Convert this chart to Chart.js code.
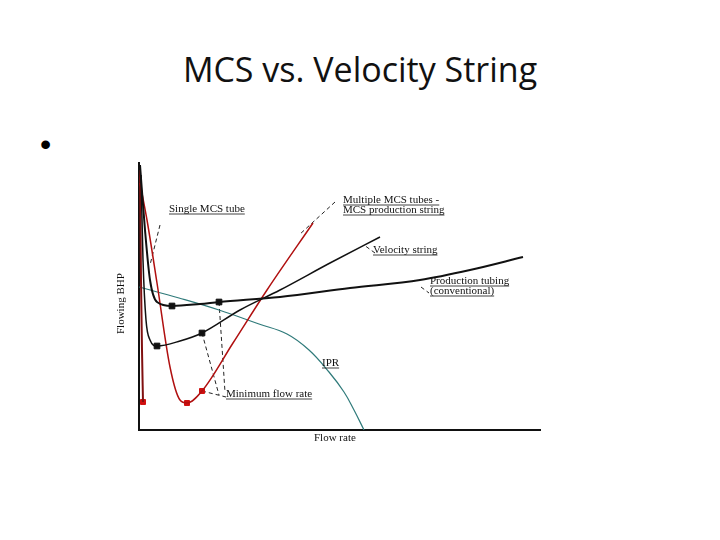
<!DOCTYPE html><html><head><meta charset="utf-8">
<script src="https://cdn.jsdelivr.net/npm/chart.js@4"></script>
<style>body{margin:0;background:#fff;width:720px;height:540px;overflow:hidden;position:relative;font-family:"Liberation Sans",sans-serif}
#t{position:absolute;top:46px;width:720px;text-align:center;font-size:34px;font-family:"Open Sans","Liberation Sans";color:#111}
#b{position:absolute;left:40px;top:126px;font-size:32px}
canvas{position:absolute;left:0;top:0}</style></head><body>
<div id="t">MCS vs. Velocity String</div><div id="b">•</div>
<canvas id="c" width="720" height="540"></canvas>
<script>
const productionTubing=[[1,265],[6,200],[11,150],[18,128],[33,124],[61,126],[80,128],[141,133],[211,142],[281,150],[331,160],[384,173]];
const velocityString=[[2,255],[4,170],[7,110],[11,90],[18,84],[41,89],[63,97],[101,120],[141,140],[191,167],[241,193]];
const multipleMCS=[[1,247],[8,210],[18,147],[31,63],[41,30],[48,27],[63,39],[94,87],[128,140],[174,207]];
const singleMCS=[[1,260],[2,150],[3,80],[4,28]];
const ipr=[[0,143],[40,132],[80,120],[120,106],[148,96],[170,80],[190,58],[205,38],[215,20],[225,0]];
const blackMarkers=[[18,84],[33,124],[63,97],[80,128]];
const redMarkers=[[4,28],[48,27],[63,39]];
const leaders=[[[21,205],[11,165]],[[196,228],[160,195]],[[236,177],[225,185]],[[282,143],[290,137]],[[63,97],[80,35]],[[80,128],[86,38]],[[63,39],[87,33]]];
const labels=[{t:"Single MCS tube",x:30,y:218},{t:"Multiple MCS tubes -",x:204,y:227},{t:"MCS production string",x:204,y:217},{t:"Velocity string",x:234,y:177},{t:"Production tubing",x:291,y:146},{t:"(conventional)",x:291,y:136},{t:"IPR",x:183,y:64},{t:"Minimum flow rate",x:87,y:33}];
const P=a=>a.map(p=>({x:p[0],y:p[1]}));
const ds=[
 {data:P(productionTubing),borderColor:'#111',borderWidth:2},
 {data:P(velocityString),borderColor:'#111',borderWidth:1.5},
 {data:P(multipleMCS),borderColor:'#b01010',borderWidth:1.5},
 {data:P(singleMCS),borderColor:'#801010',borderWidth:2},
 {data:P(ipr),borderColor:'#2f7a7a',borderWidth:1.2,cubicInterpolationMode:'default'},
 {data:P(blackMarkers),showLine:false,pointRadius:4,pointStyle:'rect',pointBackgroundColor:'#111',borderColor:'#111'},
 {data:P(redMarkers),showLine:false,pointRadius:3.5,pointStyle:'rect',pointBackgroundColor:'#d01010',borderColor:'#d01010'}
];
leaders.forEach(l=>ds.push({data:P(l),borderColor:'#222',borderWidth:1,borderDash:[4,3]}));
ds.forEach(d=>{d.tension=0.4;d.cubicInterpolationMode=d.cubicInterpolationMode||'monotone';if(d.pointRadius===undefined)d.pointRadius=0;});
const lab={id:'lab',afterDraw(c){const x=c.scales.x,y=c.scales.y,g=c.ctx;g.save();g.font='11px "Liberation Serif",serif';g.fillStyle='#111';g.strokeStyle='#111';g.lineWidth=0.8;
 labels.forEach(l=>{const px=x.getPixelForValue(l.x),py=y.getPixelForValue(l.y);g.fillText(l.t,px,py);const w=g.measureText(l.t).width;g.beginPath();g.moveTo(px,py+2);g.lineTo(px+w,py+2);g.stroke();});
 g.fillText('Flow rate',314,441);
 g.translate(124,334);g.rotate(-Math.PI/2);g.fillText('Flowing BHP',0,0);g.restore();}};
new Chart(document.getElementById('c'),{type:'line',data:{datasets:ds},plugins:[lab],
options:{responsive:false,animation:false,layout:{padding:{left:139,right:180,top:163,bottom:110}},
plugins:{legend:{display:false},tooltip:{enabled:false}},
scales:{x:{type:'linear',min:0,max:401,ticks:{display:false},grid:{display:false,drawTicks:false},border:{color:'#111',width:2}},
y:{min:0,max:267,ticks:{display:false},grid:{display:false,drawTicks:false},border:{color:'#111',width:2}}}}});
</script></body></html>
